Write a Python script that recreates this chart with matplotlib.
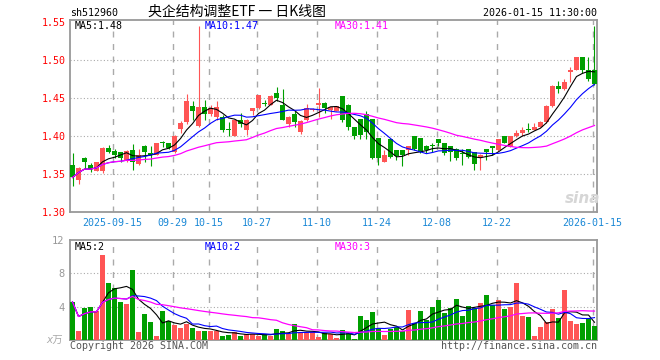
import matplotlib.pyplot as plt
import numpy as np
import pandas as pd

# daily candles, 2025-09-04 .. 2026-01-15 (88 trading days)
opens = [1.362, 1.342, 1.371, 1.361, 1.354, 1.353, 1.384, 1.380, 1.378, 1.367,
         1.381, 1.363, 1.386, 1.377, 1.375, 1.391, 1.390, 1.378, 1.409, 1.418,
         1.439, 1.413, 1.438, 1.428, 1.425, 1.424, 1.409, 1.400, 1.420, 1.407,
         1.432, 1.436, 1.443, 1.441, 1.456, 1.440, 1.415, 1.428, 1.405, 1.420,
         1.434, 1.440, 1.443, 1.434, 1.433, 1.452, 1.441, 1.411, 1.422, 1.429,
         1.422, 1.397, 1.365, 1.395, 1.381, 1.381, 1.381, 1.400, 1.397, 1.387,
         1.388, 1.395, 1.391, 1.386, 1.383, 1.377, 1.382, 1.379, 1.372, 1.383,
         1.387, 1.381, 1.400, 1.385, 1.400, 1.404, 1.408, 1.408, 1.412, 1.418,
         1.439, 1.466, 1.461, 1.484, 1.487, 1.504, 1.486, 1.486]
highs = [1.377, 1.359, 1.372, 1.364, 1.366, 1.385, 1.388, 1.382, 1.379, 1.381,
         1.389, 1.382, 1.388, 1.386, 1.391, 1.393, 1.391, 1.401, 1.419, 1.455,
         1.446, 1.544, 1.447, 1.440, 1.445, 1.427, 1.418, 1.421, 1.430, 1.422,
         1.437, 1.454, 1.447, 1.454, 1.464, 1.462, 1.426, 1.433, 1.420, 1.442,
         1.436, 1.463, 1.444, 1.438, 1.439, 1.452, 1.442, 1.411, 1.422, 1.432,
         1.422, 1.397, 1.381, 1.395, 1.381, 1.381, 1.387, 1.400, 1.397, 1.388,
         1.390, 1.395, 1.391, 1.386, 1.384, 1.382, 1.382, 1.379, 1.376, 1.383,
         1.387, 1.396, 1.400, 1.400, 1.407, 1.412, 1.417, 1.417, 1.419, 1.440,
         1.467, 1.472, 1.474, 1.490, 1.504, 1.504, 1.504, 1.544]
lows = [1.334, 1.337, 1.356, 1.352, 1.353, 1.351, 1.377, 1.371, 1.365, 1.366,
        1.355, 1.362, 1.365, 1.360, 1.374, 1.385, 1.383, 1.377, 1.404, 1.416,
        1.420, 1.412, 1.421, 1.426, 1.420, 1.405, 1.400, 1.399, 1.411, 1.401,
        1.427, 1.435, 1.439, 1.440, 1.446, 1.420, 1.411, 1.412, 1.402, 1.419,
        1.432, 1.425, 1.430, 1.422, 1.432, 1.418, 1.407, 1.395, 1.396, 1.396,
        1.369, 1.362, 1.365, 1.371, 1.368, 1.360, 1.375, 1.381, 1.377, 1.377,
        1.379, 1.387, 1.375, 1.367, 1.368, 1.362, 1.370, 1.355, 1.355, 1.368,
        1.375, 1.380, 1.390, 1.385, 1.398, 1.399, 1.405, 1.407, 1.411, 1.417,
        1.438, 1.456, 1.460, 1.471, 1.486, 1.482, 1.472, 1.467]
closes = [1.345, 1.358, 1.365, 1.356, 1.365, 1.384, 1.378, 1.375, 1.371, 1.380,
          1.365, 1.374, 1.378, 1.375, 1.390, 1.390, 1.384, 1.400, 1.417, 1.446,
          1.432, 1.438, 1.428, 1.437, 1.438, 1.407, 1.407, 1.420, 1.416, 1.421,
          1.436, 1.453, 1.442, 1.452, 1.450, 1.421, 1.425, 1.418, 1.419, 1.437,
          1.435, 1.443, 1.437, 1.438, 1.439, 1.420, 1.411, 1.400, 1.401, 1.405,
          1.371, 1.370, 1.375, 1.372, 1.373, 1.374, 1.387, 1.382, 1.378, 1.381,
          1.387, 1.391, 1.377, 1.379, 1.370, 1.376, 1.372, 1.363, 1.374, 1.378,
          1.384, 1.395, 1.391, 1.400, 1.404, 1.408, 1.4075, 1.412, 1.418, 1.439,
          1.466, 1.461, 1.471, 1.487, 1.504, 1.487, 1.474, 1.468]
# volume in 万
volumes = [4.56, 1.08, 3.84, 4.00, 3.48, 10.2, 6.84, 6.20, 4.60, 4.32,
           8.40, 0.96, 3.12, 2.16, 0.48, 3.48, 2.28, 1.84, 1.44, 1.92,
           1.44, 1.08, 1.08, 1.08, 1.08, 0.52, 0.64, 0.96, 0.48, 0.72,
           0.76, 0.48, 0.72, 0.48, 1.32, 1.08, 0.72, 1.92, 0.80, 0.80,
           0.96, 0.36, 0.84, 0.72, 0.24, 1.20, 0.80, 0.12, 2.92, 2.40,
           3.36, 1.40, 0.64, 1.36, 1.56, 1.08, 3.60, 2.04, 3.48, 2.44,
           4.00, 4.80, 3.24, 3.84, 4.96, 2.92, 4.08, 3.80, 4.48, 5.44,
           4.24, 4.80, 3.72, 4.00, 6.84, 2.92, 2.76, 0.52, 1.60, 2.20,
           3.76, 2.64, 6.04, 2.32, 1.96, 2.08, 2.60, 1.68]

tick_pos = [7, 17, 23, 31, 41, 51, 61, 71, 87]
tick_labels = ['2025-09-15', '09-29', '10-15', '10-27', '11-10',
               '11-24', '12-08', '12-22', '2026-01-15']
price_ticks = [1.30, 1.35, 1.40, 1.45, 1.50, 1.55]
vol_ticks = [4, 8, 12]

RED = '#ff5555'
GREEN = '#009f00'
GRID = '#aaaaaa'
FRAME = '#999999'

plt.rcParams['font.family'] = ['DejaVu Sans Mono', 'Noto Sans CJK SC']

W, H = 660, 360
fig = plt.figure(figsize=(W / 100, H / 100), dpi=100)
ax = fig.add_axes([70 / W, 1 - 212 / H, 527 / W, 192 / H])
axv = fig.add_axes([70 / W, 1 - 340 / H, 527 / W, 100 / H])

o = np.array(opens)
c = np.array(closes)
x = np.arange(len(c))
cols = np.where(c >= o, RED, GREEN)

# price pane
ax.vlines(x, lows, highs, colors=cols, lw=0.8, zorder=3)
body = np.maximum(np.abs(c - o), 0.0013)
ax.bar(x, body, bottom=np.minimum(o, c), width=0.83, color=cols, lw=0, zorder=3)

cs = pd.Series(c)
ax.plot(x, cs.rolling(5, min_periods=1).mean(), color='black', lw=0.8, zorder=4)
ax.plot(x, cs.rolling(10, min_periods=1).mean(), color='#0000ff', lw=0.8, zorder=4)
ax.plot(x, cs.rolling(30, min_periods=1).mean(), color='#ff00ff', lw=0.9, zorder=4)

# volume pane
axv.bar(x, volumes, width=0.83, color=cols, lw=0, zorder=3)
vs = pd.Series(volumes)
axv.plot(x, vs.rolling(5, min_periods=1).mean(), color='black', lw=0.8, zorder=4)
axv.plot(x, vs.rolling(10, min_periods=1).mean(), color='#0000ff', lw=0.8, zorder=4)
axv.plot(x, vs.rolling(30, min_periods=1).mean(), color='#ff00ff', lw=0.9, zorder=4)

grid_x = np.array(tick_pos) - 0.33
for a in (ax, axv):
    a.set_xlim(-0.42, 87.42)
    for s in a.spines.values():
        s.set_color(FRAME)
        s.set_linewidth(1.3)
    for gx in grid_x:
        a.axvline(gx, color=GRID, lw=1.0, linestyle=(0, (4.3, 4.7)), zorder=1)
    a.tick_params(length=0)

ax.set_ylim(1.2996, 1.5522)
for p in price_ticks[1:-1]:
    ax.axhline(p, color=GRID, lw=0.8, linestyle=(0, (1, 2)), zorder=1)
ax.set_yticks(price_ticks)
ax.set_yticklabels(['%.2f' % p for p in price_ticks], color='#ff0000', fontsize=7.2)
ax.tick_params(axis='y', pad=3)
ax.set_xticks(grid_x)
ax.set_xticklabels(tick_labels, color='#1a88d6', fontsize=7.2)
ax.tick_params(axis='x', pad=4)

axv.set_ylim(0, 12)
for v in vol_ticks[:-1]:
    axv.axhline(v, color=GRID, lw=0.8, linestyle=(0, (1, 2)), zorder=1)
axv.set_yticks(vol_ticks)
axv.set_yticklabels([str(v) for v in vol_ticks], color='#999999', fontsize=7.5)
axv.tick_params(axis='y', pad=4)
axv.set_xticks([])

def px(xp, yp):
    return xp / W, 1 - yp / H

# header
fig.text(*px(70, 13), 'sh512960', ha='left', va='center', fontsize=7.2)
fig.text(*px(237, 12), '央企结构调整ETF 一 日K线图', ha='center', va='center',
         fontsize=10, family=['Noto Sans CJK SC', 'DejaVu Sans'])
fig.text(*px(597, 13), '2026-01-15 11:30:00', ha='right', va='center', fontsize=7.2)

# MA legends
fig.text(*px(75, 26), 'MA5:1.48', color='black', va='center', fontsize=7.2)
fig.text(*px(205, 26), 'MA10:1.47', color='#0000ff', va='center', fontsize=7.2)
fig.text(*px(335, 26), 'MA30:1.41', color='#ff00ff', va='center', fontsize=7.2)
fig.text(*px(75, 247), 'MA5:2', color='black', va='center', fontsize=7.2)
fig.text(*px(205, 247), 'MA10:2', color='#0000ff', va='center', fontsize=7.2)
fig.text(*px(335, 247), 'MA30:3', color='#ff00ff', va='center', fontsize=7.2)

# watermark
fig.text(*px(583, 198), 'sina', ha='center', va='center', fontsize=11,
         fontweight='bold', style='italic', color='#d6d6d6', family='DejaVu Sans')

# footer
fig.text(*px(63, 341), 'x万', ha='right', va='center', fontsize=7.5,
         style='italic', color='#aaaaaa')
fig.text(*px(70, 346), 'Copyright 2026 SINA.COM', ha='left', va='center',
         fontsize=7.2, color='#555555')
fig.text(*px(597, 346), 'http://finance.sina.com.cn', ha='right', va='center',
         fontsize=7.2, color='#555555')

fig.savefig('out.png', dpi=100)
